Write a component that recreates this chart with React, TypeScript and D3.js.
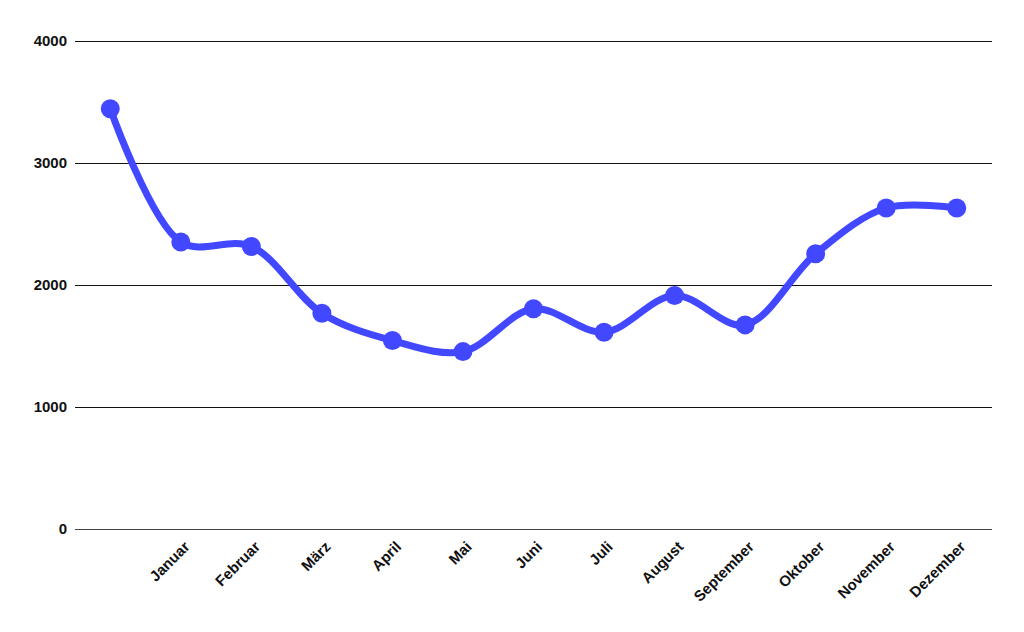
import React, { useEffect, useRef } from 'react'
import * as d3 from 'd3'

const categories = ['', 'Januar', 'Februar', 'März', 'April', 'Mai', 'Juni', 'Juli', 'August', 'September', 'Oktober', 'November', 'Dezember']
const values = [3445, 2352, 2316, 1769, 1545, 1454, 1805, 1613, 1914, 1673, 2256, 2631, 2631]
const yTicks = [0, 1000, 2000, 3000, 4000]

const width = 1024
const height = 632

const App: React.FC = () => {
  const ref = useRef<SVGSVGElement>(null)

  useEffect(() => {
    if (!ref.current) return
    const svg = d3.select(ref.current)
    svg.selectAll('*').remove()

    const margin = { top: 41, right: 32, bottom: 103, left: 75 }
    const innerWidth = width - margin.left - margin.right
    const innerHeight = height - margin.top - margin.bottom

    const x = d3.scaleBand()
      .domain(categories.map((c, i) => String(i)))
      .range([0, innerWidth])

    const y = d3.scaleLinear()
      .domain([0, 4000])
      .range([innerHeight, 0])

    const g = svg.append('g')
      .attr('transform', `translate(${margin.left},${margin.top})`)

    const font = '"Liberation Sans", Arial, sans-serif'

    // gridlines + y labels
    g.selectAll('.grid')
      .data(yTicks)
      .enter().append('line')
      .attr('x1', 0)
      .attr('x2', innerWidth)
      .attr('y1', d => Math.round(y(d)) + 0.5)
      .attr('y2', d => Math.round(y(d)) + 0.5)
      .attr('stroke', d => d === 0 ? '#444' : '#111')
      .attr('stroke-width', 1)

    g.selectAll('.ylab')
      .data(yTicks)
      .enter().append('text')
      .attr('x', -8)
      .attr('y', d => y(d))
      .attr('dy', '0.35em')
      .attr('text-anchor', 'end')
      .attr('font-family', font)
      .attr('font-weight', 'bold')
      .attr('font-size', 15)
      .attr('fill', '#111')
      .text(d => String(d))

    const cx = (i: number) => (x(String(i)) as number) + x.bandwidth() / 2

    // x labels
    g.selectAll('.xlab')
      .data(categories)
      .enter().append('text')
      .attr('transform', (d, i) => `translate(${cx(i) + 6},${innerHeight + 15}) rotate(-45)`)
      .attr('text-anchor', 'end')
      .attr('dy', '0.35em')
      .attr('font-family', font)
      .attr('font-weight', 'bold')
      .attr('font-size', 15)
      .attr('fill', '#111')
      .text(d => d)

    const line = d3.line<number>()
      .x((d, i) => cx(i))
      .y(d => y(d))
      .curve(d3.curveCatmullRom.alpha(0.5))

    g.append('path')
      .datum(values)
      .attr('d', line)
      .attr('fill', 'none')
      .attr('stroke', '#4248ff')
      .attr('stroke-width', 7)
      .attr('stroke-linejoin', 'round')
      .attr('stroke-linecap', 'round')

    g.selectAll('.pt')
      .data(values)
      .enter().append('circle')
      .attr('cx', (d, i) => cx(i))
      .attr('cy', d => y(d))
      .attr('r', 9.5)
      .attr('fill', '#4248ff')
  }, [])

  return (
    <svg ref={ref} width={width} height={height}
      style={{ position: 'absolute', top: 0, left: 0, background: '#fff' }} />
  )
}

export default App
